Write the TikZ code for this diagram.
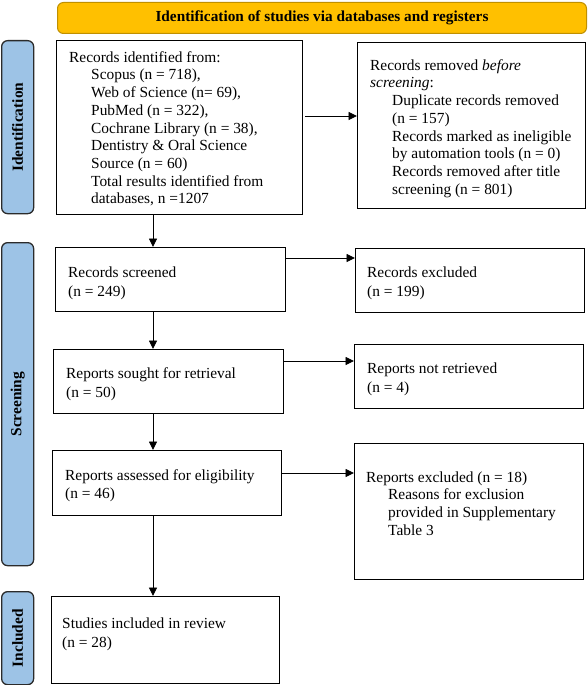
\documentclass[tikz,border=0pt]{standalone}
\usepackage{fontspec}
\setmainfont{Liberation Serif}
\usetikzlibrary{arrows.meta}
\definecolor{gold}{HTML}{FFC000}
\definecolor{goldline}{HTML}{C09000}
\definecolor{sideblue}{HTML}{9DC3E6}
\definecolor{sideline}{HTML}{2B2B2B}
\tikzset{
  box/.style={draw=black, line width=1.4pt, anchor=north west, inner sep=0pt},
  txt/.style={anchor=north west, inner sep=0pt, align=left, font=\fontsize{15.4}{17.7}\selectfont},
  side/.style={draw=sideline, fill=sideblue, line width=1.3pt, rounded corners=6pt, anchor=north west, inner sep=0pt},
  sidetxt/.style={rotate=90, inner sep=0pt, font=\fontsize{15.4}{17.7}\selectfont\bfseries},
  banner/.style={draw=goldline, fill=gold, line width=1pt, rounded corners=6pt, anchor=north west, inner sep=0pt, font=\fontsize{15.3}{17.7}\selectfont\bfseries},
  arr/.style={line width=0.9pt, -{Triangle[length=8.5pt,width=8pt]}},
}
\newcommand{\ind}{\hspace*{22pt}}
\newcommand{\st}{\rule{0pt}{11pt}}
\begin{document}
\begin{tikzpicture}[x=1pt,y=-1pt]
\useasboundingbox (0,0) rectangle (587,685);
% banner
\node[banner, minimum width=529pt, minimum height=31pt] (ban) at (57,2) {Identification of studies via databases and registers};
% side labels
\node[side, minimum width=32pt, minimum height=173pt] (s1) at (1,40) {};
\node[sidetxt] (s1t) at (s1.center) {Identification};
\node[side, minimum width=32pt, minimum height=323pt] (s2) at (1,242) {};
\node[sidetxt] (s2t) at (s2.center) {Screening};
\node[side, minimum width=32pt, minimum height=93pt] (s3) at (1,591) {};
\node[sidetxt] (s3t) at (s3.center) {Included};
% boxes
\node[box, minimum width=246pt, minimum height=174pt] (b1) at (56,40) {};
\node[box, minimum width=228pt, minimum height=166pt] (b2) at (357,42) {};
\node[box, minimum width=230pt, minimum height=64pt] (b3) at (55,247) {};
\node[box, minimum width=229pt, minimum height=64pt] (b4) at (355,248) {};
\node[box, minimum width=230pt, minimum height=64pt] (b5) at (53,349) {};
\node[box, minimum width=229pt, minimum height=64pt] (b6) at (354,344) {};
\node[box, minimum width=229pt, minimum height=65pt] (b7) at (52,450) {};
\node[box, minimum width=229pt, minimum height=136pt] (b8) at (354,443) {};
\node[box, minimum width=228pt, minimum height=87pt] (b9) at (51,596) {};
% texts
\node[txt] (t1) at (69,51) {\st Records identified from:\\
\ind Scopus (n = 718),\\
\ind Web of Science (n= 69),\\
\ind PubMed (n = 322),\\
\ind Cochrane Library (n = 38),\\
\ind Dentistry \& Oral Science\\
\ind Source (n = 60)\\
\ind Total results identified from\\
\ind databases, n =1207};
\node[txt] (t2) at (370,59) {\st Records removed \textit{before}\\
\textit{screening}:\\
\ind Duplicate records removed\\
\ind (n = 157)\\
\ind Records marked as ineligible\\
\ind by automation tools (n = 0)\\
\ind Records removed after title\\
\ind screening (n = 801)};
\node[txt, font=\fontsize{15.4}{19.5}\selectfont] (t3) at (68,266) {\st Records screened\\(n = 249)};
\node[txt, font=\fontsize{15.4}{19.5}\selectfont] (t4) at (367,266) {\st Records excluded\\(n = 199)};
\node[txt, font=\fontsize{15.4}{19.5}\selectfont] (t5) at (66,367) {\st Reports sought for retrieval\\(n = 50)};
\node[txt, font=\fontsize{15.4}{19.5}\selectfont] (t6) at (367,362) {\st Reports not retrieved\\(n = 4)};
\node[txt, font=\fontsize{15.4}{18.5}\selectfont] (t7) at (65,469) {\st Reports assessed for eligibility\\(n = 46)};
\node[txt] (t8) at (366,471) {\st Reports excluded (n = 18)\\
\ind Reasons for exclusion\\
\ind provided in Supplementary\\
\ind Table 3};
\node[txt, font=\fontsize{15.4}{19.5}\selectfont] (t9) at (62,617) {\st Studies included in review\\(n = 28)};
% connectors
\coordinate (cx) at (153,0);
\draw[arr] (b1.south -| cx) -- (b3.north -| cx);
\draw[arr] (b3.south -| cx) -- (b5.north -| cx);
\draw[arr] (b5.south -| cx) -- (b7.north -| cx);
\draw[arr] (b7.south -| cx) -- (b9.north -| cx);
\coordinate (h1) at (0,116);
\coordinate (h2) at (0,258);
\coordinate (h3) at (0,361);
\coordinate (h4) at (0,473);
\draw[arr] ([xshift=2pt]b1.east |- h1) -- (b2.west |- h1);
\draw[arr] (b3.east |- h2) -- (b4.west |- h2);
\draw[arr] (b5.east |- h3) -- (b6.west |- h3);
\draw[arr] (b7.east |- h4) -- (b8.west |- h4);
\end{tikzpicture}
\end{document}
